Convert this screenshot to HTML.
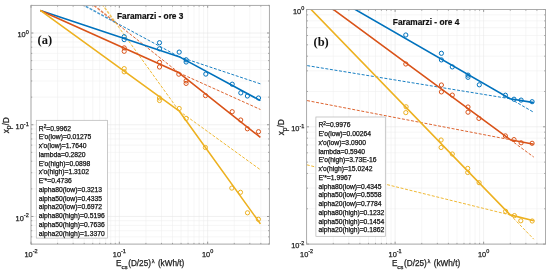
<!DOCTYPE html>
<html lang="en"><head><meta charset="utf-8"><title>Faramarzi ore 3 / ore 4</title>
<style>html,body{margin:0;padding:0;background:#fff}body{width:550px;height:274px;overflow:hidden}svg{display:block}</style></head>
<body>
<svg width="550" height="274" viewBox="0 0 550 274" font-family='"Liberation Sans", Arial, Helvetica, sans-serif'>
<rect width="550" height="274" fill="#fff"/>
<clipPath id="clip0"><rect x="31" y="5.4" width="238.4" height="238.7"/></clipPath>
<g stroke-width="0.55" shape-rendering="geometricPrecision"><line x1="57.59" y1="5.4" x2="57.59" y2="244.1" stroke="#efefef"/><line x1="73.14" y1="5.4" x2="73.14" y2="244.1" stroke="#efefef"/><line x1="84.18" y1="5.4" x2="84.18" y2="244.1" stroke="#efefef"/><line x1="92.74" y1="5.4" x2="92.74" y2="244.1" stroke="#efefef"/><line x1="99.73" y1="5.4" x2="99.73" y2="244.1" stroke="#efefef"/><line x1="105.65" y1="5.4" x2="105.65" y2="244.1" stroke="#efefef"/><line x1="110.77" y1="5.4" x2="110.77" y2="244.1" stroke="#efefef"/><line x1="115.29" y1="5.4" x2="115.29" y2="244.1" stroke="#efefef"/><line x1="145.92" y1="5.4" x2="145.92" y2="244.1" stroke="#efefef"/><line x1="161.47" y1="5.4" x2="161.47" y2="244.1" stroke="#efefef"/><line x1="172.51" y1="5.4" x2="172.51" y2="244.1" stroke="#efefef"/><line x1="181.07" y1="5.4" x2="181.07" y2="244.1" stroke="#efefef"/><line x1="188.06" y1="5.4" x2="188.06" y2="244.1" stroke="#efefef"/><line x1="193.98" y1="5.4" x2="193.98" y2="244.1" stroke="#efefef"/><line x1="199.1" y1="5.4" x2="199.1" y2="244.1" stroke="#efefef"/><line x1="203.62" y1="5.4" x2="203.62" y2="244.1" stroke="#efefef"/><line x1="234.25" y1="5.4" x2="234.25" y2="244.1" stroke="#efefef"/><line x1="249.8" y1="5.4" x2="249.8" y2="244.1" stroke="#efefef"/><line x1="260.84" y1="5.4" x2="260.84" y2="244.1" stroke="#efefef"/><line x1="269.4" y1="5.4" x2="269.4" y2="244.1" stroke="#efefef"/><line x1="31" y1="244.1" x2="269.4" y2="244.1" stroke="#efefef"/><line x1="31" y1="236.84" x2="269.4" y2="236.84" stroke="#efefef"/><line x1="31" y1="230.69" x2="269.4" y2="230.69" stroke="#efefef"/><line x1="31" y1="225.38" x2="269.4" y2="225.38" stroke="#efefef"/><line x1="31" y1="220.68" x2="269.4" y2="220.68" stroke="#efefef"/><line x1="31" y1="188.87" x2="269.4" y2="188.87" stroke="#efefef"/><line x1="31" y1="172.72" x2="269.4" y2="172.72" stroke="#efefef"/><line x1="31" y1="161.26" x2="269.4" y2="161.26" stroke="#efefef"/><line x1="31" y1="152.36" x2="269.4" y2="152.36" stroke="#efefef"/><line x1="31" y1="145.1" x2="269.4" y2="145.1" stroke="#efefef"/><line x1="31" y1="138.96" x2="269.4" y2="138.96" stroke="#efefef"/><line x1="31" y1="133.64" x2="269.4" y2="133.64" stroke="#efefef"/><line x1="31" y1="128.95" x2="269.4" y2="128.95" stroke="#efefef"/><line x1="31" y1="97.14" x2="269.4" y2="97.14" stroke="#efefef"/><line x1="31" y1="80.98" x2="269.4" y2="80.98" stroke="#efefef"/><line x1="31" y1="69.52" x2="269.4" y2="69.52" stroke="#efefef"/><line x1="31" y1="60.63" x2="269.4" y2="60.63" stroke="#efefef"/><line x1="31" y1="53.37" x2="269.4" y2="53.37" stroke="#efefef"/><line x1="31" y1="47.22" x2="269.4" y2="47.22" stroke="#efefef"/><line x1="31" y1="41.91" x2="269.4" y2="41.91" stroke="#efefef"/><line x1="31" y1="37.21" x2="269.4" y2="37.21" stroke="#efefef"/><line x1="31" y1="5.4" x2="269.4" y2="5.4" stroke="#efefef"/><line x1="31" y1="5.4" x2="31" y2="244.1" stroke="#e6e6e6"/><line x1="119.33" y1="5.4" x2="119.33" y2="244.1" stroke="#e6e6e6"/><line x1="207.66" y1="5.4" x2="207.66" y2="244.1" stroke="#e6e6e6"/><line x1="31" y1="216.49" x2="269.4" y2="216.49" stroke="#e6e6e6"/><line x1="31" y1="124.75" x2="269.4" y2="124.75" stroke="#e6e6e6"/><line x1="31" y1="33.01" x2="269.4" y2="33.01" stroke="#e6e6e6"/></g>
<g clip-path="url(#clip0)" fill="none">
<path d="M178.99 56.67L260.4 83.84" stroke="#0072BD" stroke-width="1" stroke-dasharray="3 1.6" opacity="0.9"/>
<path d="M4.41 -37.54L115.2 22.25" stroke="#0072BD" stroke-width="1.5" stroke-dasharray="3 1.4" opacity="0.72"/>
<path d="M115.2 22.25L178.99 56.67" stroke="#0072BD" stroke-width="1" stroke-dasharray="3 1.6" opacity="0.9"/>
<path d="M178.99 72.83L260.4 109.48" stroke="#D95319" stroke-width="1" stroke-dasharray="3 1.6" opacity="0.9"/>
<path d="M4.41 -65.61L115.2 22.25" stroke="#D95319" stroke-width="1.5" stroke-dasharray="3 1.4" opacity="0.72"/>
<path d="M115.2 22.25L178.99 72.84" stroke="#D95319" stroke-width="1" stroke-dasharray="3 1.6" opacity="0.9"/>
<path d="M178.99 110.81L260.4 169.76" stroke="#EDB120" stroke-width="1" stroke-dasharray="3 1.6" opacity="0.9"/>
<path d="M4.41 -131.59L115.2 22.25" stroke="#EDB120" stroke-width="1.5" stroke-dasharray="3 1.4" opacity="0.72"/>
<path d="M115.2 22.25L178.99 110.82" stroke="#EDB120" stroke-width="1" stroke-dasharray="3 1.6" opacity="0.9"/>
<path d="M40.32 10.4L178.99 56.67L260.4 100.6" stroke="#0072BD" stroke-width="1.6" stroke-linejoin="round"/>
<path d="M40.32 10.4L178.99 72.83L260.4 137.4" stroke="#D95319" stroke-width="1.6" stroke-linejoin="round"/>
<path d="M40.32 10.4L178.99 110.81L260.4 223.86" stroke="#EDB120" stroke-width="1.6" stroke-linejoin="round"/>
<circle cx="124.2" cy="36.7" r="2.1" stroke="#0072BD" stroke-width="1"/>
<circle cx="124.2" cy="39.6" r="2.1" stroke="#0072BD" stroke-width="1"/>
<circle cx="159.5" cy="42.7" r="2.1" stroke="#0072BD" stroke-width="1"/>
<circle cx="159.5" cy="48.8" r="2.1" stroke="#0072BD" stroke-width="1"/>
<circle cx="179.2" cy="52.1" r="2.1" stroke="#0072BD" stroke-width="1"/>
<circle cx="186.1" cy="59.8" r="2.1" stroke="#0072BD" stroke-width="1"/>
<circle cx="186.1" cy="62" r="2.1" stroke="#0072BD" stroke-width="1"/>
<circle cx="205.8" cy="74.1" r="2.1" stroke="#0072BD" stroke-width="1"/>
<circle cx="232.2" cy="84.2" r="2.1" stroke="#0072BD" stroke-width="1"/>
<circle cx="240.8" cy="92.9" r="2.1" stroke="#0072BD" stroke-width="1"/>
<circle cx="247.4" cy="96" r="2.1" stroke="#0072BD" stroke-width="1"/>
<circle cx="258.5" cy="98" r="2.1" stroke="#0072BD" stroke-width="1"/>
<circle cx="124.2" cy="47.9" r="2.1" stroke="#D95319" stroke-width="1"/>
<circle cx="124.2" cy="51.3" r="2.1" stroke="#D95319" stroke-width="1"/>
<circle cx="159.5" cy="62.3" r="2.1" stroke="#D95319" stroke-width="1"/>
<circle cx="159.5" cy="67" r="2.1" stroke="#D95319" stroke-width="1"/>
<circle cx="178.8" cy="74.2" r="2.1" stroke="#D95319" stroke-width="1"/>
<circle cx="186.1" cy="80.9" r="2.1" stroke="#D95319" stroke-width="1"/>
<circle cx="186.1" cy="83.4" r="2.1" stroke="#D95319" stroke-width="1"/>
<circle cx="205.5" cy="95.6" r="2.1" stroke="#D95319" stroke-width="1"/>
<circle cx="232.2" cy="111.7" r="2.1" stroke="#D95319" stroke-width="1"/>
<circle cx="240.7" cy="120" r="2.1" stroke="#D95319" stroke-width="1"/>
<circle cx="247.4" cy="128.8" r="2.1" stroke="#D95319" stroke-width="1"/>
<circle cx="258.5" cy="131.7" r="2.1" stroke="#D95319" stroke-width="1"/>
<circle cx="124.2" cy="68.6" r="2.1" stroke="#EDB120" stroke-width="1"/>
<circle cx="124.2" cy="71.8" r="2.1" stroke="#EDB120" stroke-width="1"/>
<circle cx="159.5" cy="98" r="2.1" stroke="#EDB120" stroke-width="1"/>
<circle cx="159.5" cy="100.5" r="2.1" stroke="#EDB120" stroke-width="1"/>
<circle cx="179.2" cy="108.5" r="2.1" stroke="#EDB120" stroke-width="1"/>
<circle cx="186.2" cy="118.5" r="2.1" stroke="#EDB120" stroke-width="1"/>
<circle cx="205.4" cy="147.5" r="2.1" stroke="#EDB120" stroke-width="1"/>
<circle cx="231.8" cy="188.1" r="2.1" stroke="#EDB120" stroke-width="1"/>
<circle cx="240.5" cy="192.3" r="2.1" stroke="#EDB120" stroke-width="1"/>
<circle cx="247.5" cy="212.8" r="2.1" stroke="#EDB120" stroke-width="1"/>
<circle cx="258.4" cy="219.3" r="2.1" stroke="#EDB120" stroke-width="1"/>
</g>
<path d="M31 244.1v-2.4M31 5.4v2.4M119.33 244.1v-2.4M119.33 5.4v2.4M207.66 244.1v-2.4M207.66 5.4v2.4M57.59 244.1v-1.2M57.59 5.4v1.2M73.14 244.1v-1.2M73.14 5.4v1.2M84.18 244.1v-1.2M84.18 5.4v1.2M92.74 244.1v-1.2M92.74 5.4v1.2M99.73 244.1v-1.2M99.73 5.4v1.2M105.65 244.1v-1.2M105.65 5.4v1.2M110.77 244.1v-1.2M110.77 5.4v1.2M115.29 244.1v-1.2M115.29 5.4v1.2M145.92 244.1v-1.2M145.92 5.4v1.2M161.47 244.1v-1.2M161.47 5.4v1.2M172.51 244.1v-1.2M172.51 5.4v1.2M181.07 244.1v-1.2M181.07 5.4v1.2M188.06 244.1v-1.2M188.06 5.4v1.2M193.98 244.1v-1.2M193.98 5.4v1.2M199.1 244.1v-1.2M199.1 5.4v1.2M203.62 244.1v-1.2M203.62 5.4v1.2M234.25 244.1v-1.2M234.25 5.4v1.2M249.8 244.1v-1.2M249.8 5.4v1.2M260.84 244.1v-1.2M260.84 5.4v1.2M269.4 244.1v-1.2M269.4 5.4v1.2M31 216.49h2.4M269.4 216.49h-2.4M31 124.75h2.4M269.4 124.75h-2.4M31 33.01h2.4M269.4 33.01h-2.4M31 244.1h1.2M269.4 244.1h-1.2M31 236.84h1.2M269.4 236.84h-1.2M31 230.69h1.2M269.4 230.69h-1.2M31 225.38h1.2M269.4 225.38h-1.2M31 220.68h1.2M269.4 220.68h-1.2M31 188.87h1.2M269.4 188.87h-1.2M31 172.72h1.2M269.4 172.72h-1.2M31 161.26h1.2M269.4 161.26h-1.2M31 152.36h1.2M269.4 152.36h-1.2M31 145.1h1.2M269.4 145.1h-1.2M31 138.96h1.2M269.4 138.96h-1.2M31 133.64h1.2M269.4 133.64h-1.2M31 128.95h1.2M269.4 128.95h-1.2M31 97.14h1.2M269.4 97.14h-1.2M31 80.98h1.2M269.4 80.98h-1.2M31 69.52h1.2M269.4 69.52h-1.2M31 60.63h1.2M269.4 60.63h-1.2M31 53.37h1.2M269.4 53.37h-1.2M31 47.22h1.2M269.4 47.22h-1.2M31 41.91h1.2M269.4 41.91h-1.2M31 37.21h1.2M269.4 37.21h-1.2M31 5.4h1.2M269.4 5.4h-1.2" stroke="#6e6e6e" stroke-width="0.7" fill="none"/>
<rect x="31" y="5.4" width="238.4" height="238.7" fill="none" stroke="#a4a4a4" stroke-width="0.9"/>
<text x="31" y="256.5" font-size="7.4" text-anchor="middle" fill="#1c1c1c" stroke="#1c1c1c" stroke-width="0.25">10<tspan font-size="5.5" dy="-3.4">-2</tspan></text>
<text x="119.33" y="256.5" font-size="7.4" text-anchor="middle" fill="#1c1c1c" stroke="#1c1c1c" stroke-width="0.25">10<tspan font-size="5.5" dy="-3.4">-1</tspan></text>
<text x="207.66" y="256.5" font-size="7.4" text-anchor="middle" fill="#1c1c1c" stroke="#1c1c1c" stroke-width="0.25">10<tspan font-size="5.5" dy="-3.4">0</tspan></text>
<text x="28.7" y="220.69" font-size="7.4" text-anchor="end" fill="#1c1c1c" stroke="#1c1c1c" stroke-width="0.25">10<tspan font-size="5.5" dy="-3.4">-2</tspan></text>
<text x="28.7" y="128.95" font-size="7.4" text-anchor="end" fill="#1c1c1c" stroke="#1c1c1c" stroke-width="0.25">10<tspan font-size="5.5" dy="-3.4">-1</tspan></text>
<text x="28.7" y="37.21" font-size="7.4" text-anchor="end" fill="#1c1c1c" stroke="#1c1c1c" stroke-width="0.25">10<tspan font-size="5.5" dy="-3.4">0</tspan></text>
<text y="266.3" font-size="8.2" fill="#1c1c1c" stroke="#1c1c1c" stroke-width="0.25"><tspan x="116.1">E</tspan><tspan x="121.4" font-size="6.2" dy="2.6">cs</tspan><tspan x="128.2" dy="-2.6">(D/25)</tspan><tspan x="151.7" font-size="5.8" dy="-3.4">λ</tspan><tspan x="157.9" dy="3.4">(kWh/t)</tspan></text>
<text transform="translate(8.7 125.25) rotate(-90)" font-size="8.4" text-anchor="middle" fill="#1c1c1c" stroke="#1c1c1c" stroke-width="0.25">x<tspan font-size="6.4" dy="2.6">p</tspan><tspan dy="-2.6">/D</tspan></text>
<text x="150.2" y="19.2" font-size="8.3" font-weight="bold" text-anchor="middle" fill="#111" stroke="#111" stroke-width="0.2">Faramarzi - ore 3</text>
<text x="37.6" y="44.1" font-size="12.5" font-weight="bold" font-family="&quot;Liberation Serif&quot;, &quot;Times New Roman&quot;, serif" fill="#111">(a)</text>
<rect x="36.3" y="120.3" width="71.2" height="117.8" fill="#fff" stroke="#b4b4b4" stroke-width="0.7"/>
<text x="38.8" y="130.5" font-size="6.75" fill="#111" stroke="#111" stroke-width="0.25">R<tspan font-size="4.8" dy="-2.6">2</tspan><tspan dy="2.6">=0.9962</tspan></text>
<text x="38.8" y="139.27" font-size="6.75" fill="#111" stroke="#111" stroke-width="0.25">E'o(low)=0.01275</text>
<text x="38.8" y="148.04" font-size="6.75" fill="#111" stroke="#111" stroke-width="0.25">x'o(low)=1.7640</text>
<text x="38.8" y="156.81" font-size="6.75" fill="#111" stroke="#111" stroke-width="0.25">lambda=0.2820</text>
<text x="38.8" y="165.58" font-size="6.75" fill="#111" stroke="#111" stroke-width="0.25">E'o(high)=0.0898</text>
<text x="38.8" y="174.35" font-size="6.75" fill="#111" stroke="#111" stroke-width="0.25">x'o(high)=1.3102</text>
<text x="38.8" y="183.12" font-size="6.75" fill="#111" stroke="#111" stroke-width="0.25">E'*=0.4736</text>
<text x="38.8" y="191.89" font-size="6.75" fill="#111" stroke="#111" stroke-width="0.25">alpha80(low)=0.3213</text>
<text x="38.8" y="200.66" font-size="6.75" fill="#111" stroke="#111" stroke-width="0.25">alpha50(low)=0.4335</text>
<text x="38.8" y="209.43" font-size="6.75" fill="#111" stroke="#111" stroke-width="0.25">alpha20(low)=0.6972</text>
<text x="38.8" y="218.2" font-size="6.75" fill="#111" stroke="#111" stroke-width="0.25">alpha80(high)=0.5196</text>
<text x="38.8" y="226.97" font-size="6.75" fill="#111" stroke="#111" stroke-width="0.25">alpha50(high)=0.7636</text>
<text x="38.8" y="235.74" font-size="6.75" fill="#111" stroke="#111" stroke-width="0.25">alpha20(high)=1.3370</text>
<clipPath id="clip1"><rect x="306.6" y="9.5" width="238.9" height="234.6"/></clipPath>
<g stroke-width="0.55" shape-rendering="geometricPrecision"><line x1="333.25" y1="9.5" x2="333.25" y2="244.1" stroke="#efefef"/><line x1="348.83" y1="9.5" x2="348.83" y2="244.1" stroke="#efefef"/><line x1="359.89" y1="9.5" x2="359.89" y2="244.1" stroke="#efefef"/><line x1="368.47" y1="9.5" x2="368.47" y2="244.1" stroke="#efefef"/><line x1="375.48" y1="9.5" x2="375.48" y2="244.1" stroke="#efefef"/><line x1="381.4" y1="9.5" x2="381.4" y2="244.1" stroke="#efefef"/><line x1="386.54" y1="9.5" x2="386.54" y2="244.1" stroke="#efefef"/><line x1="391.07" y1="9.5" x2="391.07" y2="244.1" stroke="#efefef"/><line x1="421.76" y1="9.5" x2="421.76" y2="244.1" stroke="#efefef"/><line x1="437.35" y1="9.5" x2="437.35" y2="244.1" stroke="#efefef"/><line x1="448.41" y1="9.5" x2="448.41" y2="244.1" stroke="#efefef"/><line x1="456.98" y1="9.5" x2="456.98" y2="244.1" stroke="#efefef"/><line x1="463.99" y1="9.5" x2="463.99" y2="244.1" stroke="#efefef"/><line x1="469.92" y1="9.5" x2="469.92" y2="244.1" stroke="#efefef"/><line x1="475.05" y1="9.5" x2="475.05" y2="244.1" stroke="#efefef"/><line x1="479.58" y1="9.5" x2="479.58" y2="244.1" stroke="#efefef"/><line x1="510.28" y1="9.5" x2="510.28" y2="244.1" stroke="#efefef"/><line x1="525.86" y1="9.5" x2="525.86" y2="244.1" stroke="#efefef"/><line x1="536.92" y1="9.5" x2="536.92" y2="244.1" stroke="#efefef"/><line x1="545.5" y1="9.5" x2="545.5" y2="244.1" stroke="#efefef"/><line x1="306.6" y1="208.79" x2="545.5" y2="208.79" stroke="#efefef"/><line x1="306.6" y1="188.13" x2="545.5" y2="188.13" stroke="#efefef"/><line x1="306.6" y1="173.48" x2="545.5" y2="173.48" stroke="#efefef"/><line x1="306.6" y1="162.11" x2="545.5" y2="162.11" stroke="#efefef"/><line x1="306.6" y1="152.82" x2="545.5" y2="152.82" stroke="#efefef"/><line x1="306.6" y1="144.97" x2="545.5" y2="144.97" stroke="#efefef"/><line x1="306.6" y1="138.17" x2="545.5" y2="138.17" stroke="#efefef"/><line x1="306.6" y1="132.17" x2="545.5" y2="132.17" stroke="#efefef"/><line x1="306.6" y1="91.49" x2="545.5" y2="91.49" stroke="#efefef"/><line x1="306.6" y1="70.83" x2="545.5" y2="70.83" stroke="#efefef"/><line x1="306.6" y1="56.18" x2="545.5" y2="56.18" stroke="#efefef"/><line x1="306.6" y1="44.81" x2="545.5" y2="44.81" stroke="#efefef"/><line x1="306.6" y1="35.52" x2="545.5" y2="35.52" stroke="#efefef"/><line x1="306.6" y1="27.67" x2="545.5" y2="27.67" stroke="#efefef"/><line x1="306.6" y1="20.87" x2="545.5" y2="20.87" stroke="#efefef"/><line x1="306.6" y1="14.87" x2="545.5" y2="14.87" stroke="#efefef"/><line x1="306.6" y1="9.5" x2="306.6" y2="244.1" stroke="#e6e6e6"/><line x1="395.12" y1="9.5" x2="395.12" y2="244.1" stroke="#e6e6e6"/><line x1="483.63" y1="9.5" x2="483.63" y2="244.1" stroke="#e6e6e6"/><line x1="306.6" y1="244.1" x2="545.5" y2="244.1" stroke="#e6e6e6"/><line x1="306.6" y1="126.8" x2="545.5" y2="126.8" stroke="#e6e6e6"/><line x1="306.6" y1="9.5" x2="545.5" y2="9.5" stroke="#e6e6e6"/></g>
<g clip-path="url(#clip1)" fill="none">
<path d="M510.21 98.75L533.8 112.33" stroke="#0072BD" stroke-width="1" stroke-dasharray="3 1.6" opacity="0.9"/>
<path d="M279.95 61.17L510.21 98.76" stroke="#0072BD" stroke-width="1" stroke-dasharray="3 1.6" opacity="0.9"/>
<path d="M510.21 139.71L533.8 157.08" stroke="#D95319" stroke-width="1" stroke-dasharray="3 1.6" opacity="0.9"/>
<path d="M279.95 95.35L510.21 139.72" stroke="#D95319" stroke-width="1" stroke-dasharray="3 1.6" opacity="0.9"/>
<path d="M510.21 214.87L533.8 239.2" stroke="#EDB120" stroke-width="1" stroke-dasharray="3 1.6" opacity="0.9"/>
<path d="M279.95 158.18L510.21 214.99" stroke="#EDB120" stroke-width="1" stroke-dasharray="3 1.6" opacity="0.9"/>
<path d="M279.95 -33.84L510.21 98.75L533.8 102.61" stroke="#0072BD" stroke-width="1.6" stroke-linejoin="round"/>
<path d="M279.95 -29.89L510.21 139.71L533.8 144.27" stroke="#D95319" stroke-width="1.6" stroke-linejoin="round"/>
<path d="M279.95 -22.65L510.21 214.87L533.8 220.82" stroke="#EDB120" stroke-width="1.6" stroke-linejoin="round"/>
<circle cx="405.8" cy="35" r="2.1" stroke="#0072BD" stroke-width="1"/>
<circle cx="441.4" cy="53.3" r="2.1" stroke="#0072BD" stroke-width="1"/>
<circle cx="441.4" cy="59.9" r="2.1" stroke="#0072BD" stroke-width="1"/>
<circle cx="452.3" cy="66.9" r="2.1" stroke="#0072BD" stroke-width="1"/>
<circle cx="468" cy="75.1" r="2.1" stroke="#0072BD" stroke-width="1"/>
<circle cx="468" cy="77.3" r="2.1" stroke="#0072BD" stroke-width="1"/>
<circle cx="479.3" cy="84.8" r="2.1" stroke="#0072BD" stroke-width="1"/>
<circle cx="505.4" cy="95.2" r="2.1" stroke="#0072BD" stroke-width="1"/>
<circle cx="514" cy="99.2" r="2.1" stroke="#0072BD" stroke-width="1"/>
<circle cx="521.1" cy="100.1" r="2.1" stroke="#0072BD" stroke-width="1"/>
<circle cx="532.1" cy="101.7" r="2.1" stroke="#0072BD" stroke-width="1"/>
<circle cx="405.8" cy="64" r="2.1" stroke="#D95319" stroke-width="1"/>
<circle cx="441.4" cy="85" r="2.1" stroke="#D95319" stroke-width="1"/>
<circle cx="441.4" cy="91.9" r="2.1" stroke="#D95319" stroke-width="1"/>
<circle cx="452.3" cy="95.1" r="2.1" stroke="#D95319" stroke-width="1"/>
<circle cx="468" cy="107" r="2.1" stroke="#D95319" stroke-width="1"/>
<circle cx="468" cy="112.2" r="2.1" stroke="#D95319" stroke-width="1"/>
<circle cx="478.9" cy="118.4" r="2.1" stroke="#D95319" stroke-width="1"/>
<circle cx="505.4" cy="135.9" r="2.1" stroke="#D95319" stroke-width="1"/>
<circle cx="514" cy="139.6" r="2.1" stroke="#D95319" stroke-width="1"/>
<circle cx="521.1" cy="142.8" r="2.1" stroke="#D95319" stroke-width="1"/>
<circle cx="532.1" cy="143.3" r="2.1" stroke="#D95319" stroke-width="1"/>
<circle cx="406.1" cy="106.8" r="2.1" stroke="#EDB120" stroke-width="1"/>
<circle cx="405.8" cy="112.6" r="2.1" stroke="#EDB120" stroke-width="1"/>
<circle cx="441.1" cy="140" r="2.1" stroke="#EDB120" stroke-width="1"/>
<circle cx="441.1" cy="147.5" r="2.1" stroke="#EDB120" stroke-width="1"/>
<circle cx="452.3" cy="154" r="2.1" stroke="#EDB120" stroke-width="1"/>
<circle cx="467.7" cy="168.4" r="2.1" stroke="#EDB120" stroke-width="1"/>
<circle cx="467.7" cy="172.5" r="2.1" stroke="#EDB120" stroke-width="1"/>
<circle cx="479.1" cy="182.7" r="2.1" stroke="#EDB120" stroke-width="1"/>
<circle cx="505.6" cy="211.3" r="2.1" stroke="#EDB120" stroke-width="1"/>
<circle cx="514.4" cy="215.6" r="2.1" stroke="#EDB120" stroke-width="1"/>
<circle cx="520.8" cy="220.8" r="2.1" stroke="#EDB120" stroke-width="1"/>
<circle cx="532.2" cy="221" r="2.1" stroke="#EDB120" stroke-width="1"/>
</g>
<path d="M306.6 244.1v-2.4M306.6 9.5v2.4M395.12 244.1v-2.4M395.12 9.5v2.4M483.63 244.1v-2.4M483.63 9.5v2.4M333.25 244.1v-1.2M333.25 9.5v1.2M348.83 244.1v-1.2M348.83 9.5v1.2M359.89 244.1v-1.2M359.89 9.5v1.2M368.47 244.1v-1.2M368.47 9.5v1.2M375.48 244.1v-1.2M375.48 9.5v1.2M381.4 244.1v-1.2M381.4 9.5v1.2M386.54 244.1v-1.2M386.54 9.5v1.2M391.07 244.1v-1.2M391.07 9.5v1.2M421.76 244.1v-1.2M421.76 9.5v1.2M437.35 244.1v-1.2M437.35 9.5v1.2M448.41 244.1v-1.2M448.41 9.5v1.2M456.98 244.1v-1.2M456.98 9.5v1.2M463.99 244.1v-1.2M463.99 9.5v1.2M469.92 244.1v-1.2M469.92 9.5v1.2M475.05 244.1v-1.2M475.05 9.5v1.2M479.58 244.1v-1.2M479.58 9.5v1.2M510.28 244.1v-1.2M510.28 9.5v1.2M525.86 244.1v-1.2M525.86 9.5v1.2M536.92 244.1v-1.2M536.92 9.5v1.2M545.5 244.1v-1.2M545.5 9.5v1.2M306.6 244.1h2.4M545.5 244.1h-2.4M306.6 126.8h2.4M545.5 126.8h-2.4M306.6 9.5h2.4M545.5 9.5h-2.4M306.6 208.79h1.2M545.5 208.79h-1.2M306.6 188.13h1.2M545.5 188.13h-1.2M306.6 173.48h1.2M545.5 173.48h-1.2M306.6 162.11h1.2M545.5 162.11h-1.2M306.6 152.82h1.2M545.5 152.82h-1.2M306.6 144.97h1.2M545.5 144.97h-1.2M306.6 138.17h1.2M545.5 138.17h-1.2M306.6 132.17h1.2M545.5 132.17h-1.2M306.6 91.49h1.2M545.5 91.49h-1.2M306.6 70.83h1.2M545.5 70.83h-1.2M306.6 56.18h1.2M545.5 56.18h-1.2M306.6 44.81h1.2M545.5 44.81h-1.2M306.6 35.52h1.2M545.5 35.52h-1.2M306.6 27.67h1.2M545.5 27.67h-1.2M306.6 20.87h1.2M545.5 20.87h-1.2M306.6 14.87h1.2M545.5 14.87h-1.2" stroke="#6e6e6e" stroke-width="0.7" fill="none"/>
<rect x="306.6" y="9.5" width="238.9" height="234.6" fill="none" stroke="#a4a4a4" stroke-width="0.9"/>
<text x="306.6" y="256.5" font-size="7.4" text-anchor="middle" fill="#1c1c1c" stroke="#1c1c1c" stroke-width="0.25">10<tspan font-size="5.5" dy="-3.4">-2</tspan></text>
<text x="395.12" y="256.5" font-size="7.4" text-anchor="middle" fill="#1c1c1c" stroke="#1c1c1c" stroke-width="0.25">10<tspan font-size="5.5" dy="-3.4">-1</tspan></text>
<text x="483.63" y="256.5" font-size="7.4" text-anchor="middle" fill="#1c1c1c" stroke="#1c1c1c" stroke-width="0.25">10<tspan font-size="5.5" dy="-3.4">0</tspan></text>
<text x="304.3" y="248.3" font-size="7.4" text-anchor="end" fill="#1c1c1c" stroke="#1c1c1c" stroke-width="0.25">10<tspan font-size="5.5" dy="-3.4">-2</tspan></text>
<text x="304.3" y="131" font-size="7.4" text-anchor="end" fill="#1c1c1c" stroke="#1c1c1c" stroke-width="0.25">10<tspan font-size="5.5" dy="-3.4">-1</tspan></text>
<text x="304.3" y="13.7" font-size="7.4" text-anchor="end" fill="#1c1c1c" stroke="#1c1c1c" stroke-width="0.25">10<tspan font-size="5.5" dy="-3.4">0</tspan></text>
<text y="266.3" font-size="8.2" fill="#1c1c1c" stroke="#1c1c1c" stroke-width="0.25"><tspan x="391.95">E</tspan><tspan x="397.25" font-size="6.2" dy="2.6">cs</tspan><tspan x="404.05" dy="-2.6">(D/25)</tspan><tspan x="427.55" font-size="5.8" dy="-3.4">λ</tspan><tspan x="433.75" dy="3.4">(kWh/t)</tspan></text>
<text transform="translate(284.3 127.3) rotate(-90)" font-size="8.4" text-anchor="middle" fill="#1c1c1c" stroke="#1c1c1c" stroke-width="0.25">x<tspan font-size="6.4" dy="2.6">p</tspan><tspan dy="-2.6">/D</tspan></text>
<text x="426.05" y="24.5" font-size="8.3" font-weight="bold" text-anchor="middle" fill="#111" stroke="#111" stroke-width="0.2">Faramarzi - ore 4</text>
<text x="313.5" y="46.3" font-size="12.5" font-weight="bold" font-family="&quot;Liberation Serif&quot;, &quot;Times New Roman&quot;, serif" fill="#111">(b)</text>
<rect x="315.9" y="117" width="69.4" height="119.3" fill="#fff" stroke="#b4b4b4" stroke-width="0.7"/>
<text x="318.4" y="127.2" font-size="6.75" fill="#111" stroke="#111" stroke-width="0.25">R<tspan font-size="4.8" dy="-2.6">2</tspan><tspan dy="2.6">=0.9976</tspan></text>
<text x="318.4" y="135.97" font-size="6.75" fill="#111" stroke="#111" stroke-width="0.25">E'o(low)=0.00264</text>
<text x="318.4" y="144.74" font-size="6.75" fill="#111" stroke="#111" stroke-width="0.25">x'o(low)=3.0900</text>
<text x="318.4" y="153.51" font-size="6.75" fill="#111" stroke="#111" stroke-width="0.25">lambda=0.5940</text>
<text x="318.4" y="162.28" font-size="6.75" fill="#111" stroke="#111" stroke-width="0.25">E'o(high)=3.73E-16</text>
<text x="318.4" y="171.05" font-size="6.75" fill="#111" stroke="#111" stroke-width="0.25">x'o(high)=15.0242</text>
<text x="318.4" y="179.82" font-size="6.75" fill="#111" stroke="#111" stroke-width="0.25">E'*=1.9967</text>
<text x="318.4" y="188.59" font-size="6.75" fill="#111" stroke="#111" stroke-width="0.25">alpha80(low)=0.4345</text>
<text x="318.4" y="197.36" font-size="6.75" fill="#111" stroke="#111" stroke-width="0.25">alpha50(low)=0.5558</text>
<text x="318.4" y="206.13" font-size="6.75" fill="#111" stroke="#111" stroke-width="0.25">alpha20(low)=0.7784</text>
<text x="318.4" y="214.9" font-size="6.75" fill="#111" stroke="#111" stroke-width="0.25">alpha80(high)=0.1232</text>
<text x="318.4" y="223.67" font-size="6.75" fill="#111" stroke="#111" stroke-width="0.25">alpha50(high)=0.1454</text>
<text x="318.4" y="232.44" font-size="6.75" fill="#111" stroke="#111" stroke-width="0.25">alpha20(high)=0.1862</text>
</svg>
</body></html>
